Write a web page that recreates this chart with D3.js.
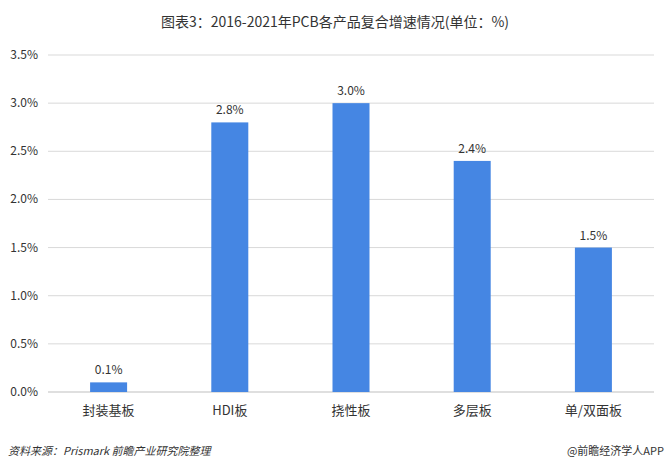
<!DOCTYPE html>
<html><head><meta charset="utf-8">
<script src="https://cdn.jsdelivr.net/npm/d3@7"></script>
<style>body{margin:0;background:#fff;font-family:"Noto Sans CJK SC","Noto Sans",sans-serif;}</style>
</head><body><svg id="c" width="670" height="472"></svg>
<script>
const categories = ["封装基板","HDI板","挠性板","多层板","单/双面板"];
const values = [0.1, 2.8, 3.0, 2.4, 1.5];
const yTicks = [0,0.5,1.0,1.5,2.0,2.5,3.0,3.5];

const svg = d3.select("#c");
const x = d3.scaleBand().domain(categories).range([48,654]);
const y = d3.scaleLinear().domain([0,3.5]).range([392,55]);

svg.append("text").attr("x",335).attr("y",27).attr("text-anchor","middle")
  .attr("font-size",14).attr("fill","#333").text("图表3：2016-2021年PCB各产品复合增速情况(单位：%)");

svg.selectAll(".g").data(yTicks.slice(1)).enter().append("line")
  .attr("x1",48).attr("x2",654).attr("y1",d=>y(d)).attr("y2",d=>y(d))
  .attr("stroke","#d9d9d9").attr("stroke-width",1);
svg.append("line").attr("x1",48).attr("x2",654).attr("y1",y(0)).attr("y2",y(0)).attr("stroke","#bfbfbf");

svg.selectAll(".yt").data(yTicks).enter().append("text")
  .attr("x",38).attr("y",d=>y(d)+4).attr("text-anchor","end").attr("font-size",12).attr("fill","#333")
  .text(d=>d.toFixed(1)+"%");

const bw = 37;
svg.selectAll(".b").data(values).enter().append("rect")
  .attr("x",(d,i)=>x(categories[i])+x.bandwidth()/2-bw/2).attr("width",bw)
  .attr("y",d=>y(d)).attr("height",d=>y(0)-y(d)).attr("fill","#4586e3");

svg.selectAll(".l").data(values).enter().append("text")
  .attr("x",(d,i)=>x(categories[i])+x.bandwidth()/2).attr("y",d=>y(d)-8)
  .attr("text-anchor","middle").attr("font-size",12).attr("fill","#333").text(d=>d.toFixed(1)+"%");

svg.selectAll(".xt").data(categories).enter().append("text")
  .attr("x",d=>x(d)+x.bandwidth()/2).attr("y",415).attr("text-anchor","middle")
  .attr("font-size",13).attr("fill","#333").text(d=>d);

svg.append("text").attr("x",8).attr("y",455).attr("font-size",11).attr("font-style","italic")
  .attr("fill","#333").text("资料来源：Prismark 前瞻产业研究院整理");
svg.append("text").attr("x",664).attr("y",455).attr("text-anchor","end").attr("font-size",11)
  .attr("fill","#333").text("@前瞻经济学人APP");
</script></body></html>
